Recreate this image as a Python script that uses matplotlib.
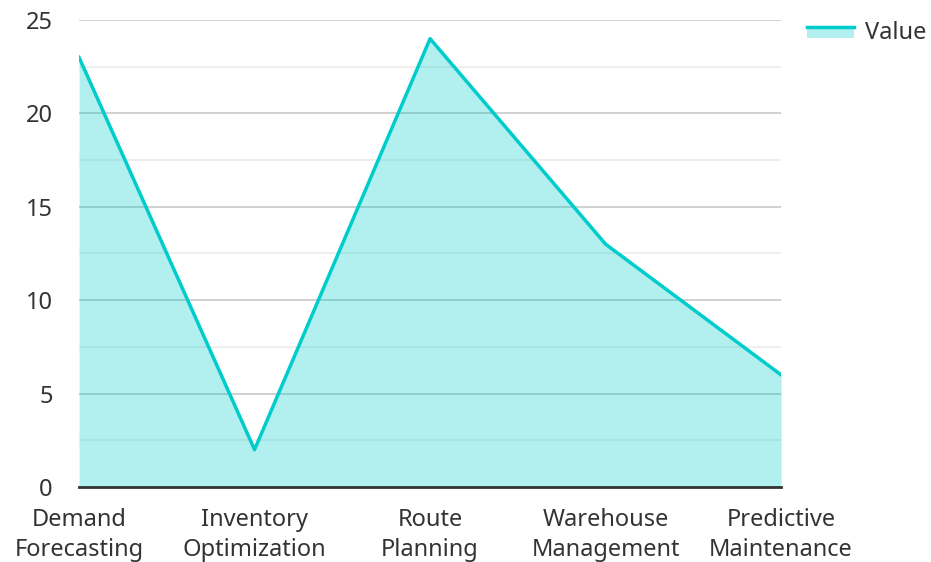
import numpy as np
import matplotlib.pyplot as plt
from matplotlib.patches import Patch, Rectangle
from matplotlib.lines import Line2D
from matplotlib.legend_handler import HandlerBase
from matplotlib.ticker import MultipleLocator

categories = ["Demand\nForecasting", "Inventory\nOptimization", "Route\nPlanning",
              "Warehouse\nManagement", "Predictive\nMaintenance"]
values = [23, 2, 24, 13, 6]


class AreaHandler(HandlerBase):
    # filled box with the line along its top edge
    def create_artists(self, legend, orig_handle, xdescent, ydescent,
                       width, height, fontsize, trans):
        color = orig_handle.get_facecolor()
        top = height * 0.75
        rect = Rectangle((-xdescent, -ydescent + height * 0.05), width, top - height * 0.05,
                         facecolor=color, alpha=0.3, linewidth=0, transform=trans)
        line = Line2D([-xdescent, -xdescent + width], [-ydescent + top] * 2,
                      color=color, alpha=1, linewidth=2.5, transform=trans)
        return [rect, line]


def main():
    plt.rcParams['font.family'] = ['Noto Sans', 'DejaVu Sans']
    line_color = "#00CCCC"
    text_color = "#333333"

    fig = plt.figure(figsize=(9.31, 5.62), dpi=100)
    ax = fig.add_axes([0.0849, 0.1335, 0.7541, 0.8309])

    x = np.arange(len(categories))
    ax.fill_between(x, values, 0, color=line_color, alpha=0.3, linewidth=0, zorder=2)
    ax.plot(x, values, color=line_color, linewidth=2.5, zorder=3)

    ax.set_xlim(0, len(categories) - 1)
    ax.set_ylim(0, 25)
    ax.yaxis.set_major_locator(MultipleLocator(5))
    ax.yaxis.set_minor_locator(MultipleLocator(2.5))
    ax.grid(which='major', axis='y', color='#c8c8c8', linewidth=1.2, zorder=1)
    ax.grid(which='minor', axis='y', color='#ebebeb', linewidth=1.2, zorder=1)
    ax.set_axisbelow(True)

    ax.set_xticks(x)
    ax.set_xticklabels(categories, linespacing=1.35)
    for s in ['top', 'right', 'left']:
        ax.spines[s].set_visible(False)
    ax.spines['bottom'].set_color('#333333')
    ax.spines['bottom'].set_linewidth(2)
    ax.tick_params(axis='both', which='both', length=0, labelsize=17, colors=text_color)
    ax.tick_params(axis='x', pad=15)
    ax.tick_params(axis='y', pad=19)

    handle = Patch(facecolor=line_color)
    leg = fig.legend([handle], ["Value"], loc='upper left', bbox_to_anchor=(0.844, 1.0),
                     frameon=False, fontsize=17, handlelength=2.0, handletextpad=0.45,
                     handler_map={Patch: AreaHandler()})
    for t in leg.get_texts():
        t.set_color(text_color)

    fig.savefig("out.png", dpi=100)


if __name__ == "__main__":
    main()
